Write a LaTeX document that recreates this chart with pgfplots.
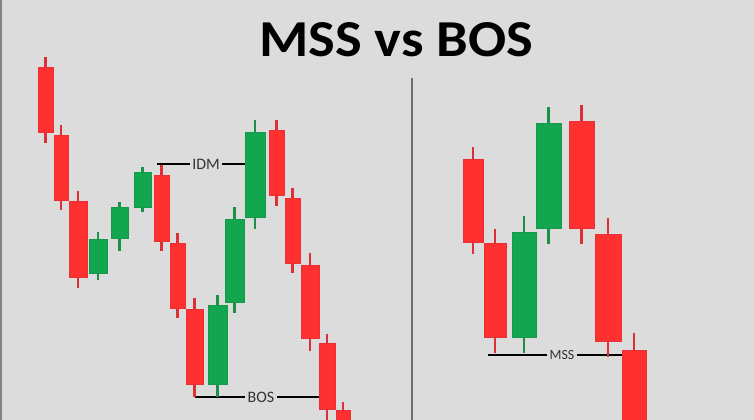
\documentclass[border=0pt]{standalone}
\usepackage{pgfplots}
\pgfplotsset{compat=1.18}
\usepackage{fontspec}
\setmainfont{Carlito}
\newfontfamily\titlefont[FakeStretch=1.09]{Carlito}
\definecolor{bg}{HTML}{DCDCDC}
\definecolor{cred}{HTML}{FF3030}
\definecolor{credd}{HTML}{DC3034}
\definecolor{cgreen}{HTML}{12A64F}
\definecolor{cgreend}{HTML}{1A9048}
\definecolor{sep}{HTML}{6E6E6E}
% \candle{fill}{wick}{xl}{xr}{wickTop}{bodyTop}{bodyBot}{wickBot}
\newcommand\candle[8]{%
  \addplot[#2, line width=2.4bp, forget plot] coordinates {(#3/2+#4/2,#5) (#3/2+#4/2,#8)};
  \addplot[fill=#1, draw=#2!60!#1, line width=0.8bp, forget plot] coordinates {(#3,#6) (#4,#6) (#4,#7) (#3,#7) (#3,#6)};
}
\newcommand\R{\candle{cred}{credd}}
\newcommand\G{\candle{cgreen}{cgreend}}
\begin{document}
\begin{tikzpicture}
\begin{axis}[
  width=754bp, height=420bp, scale only axis,
  xmin=0, xmax=754, ymin=0, ymax=420, y dir=reverse,
  hide axis, clip=true,
]
\fill[bg] (rel axis cs:0,0) rectangle (rel axis cs:1,1);
% left border and separator
\addplot[sep!80!bg, line width=1.5bp, forget plot] coordinates {(1,0) (1,420)};
\addplot[sep, line width=1.6bp, forget plot] coordinates {(412,78) (412,420)};
% level lines
\addplot[black, line width=2.5bp, forget plot] coordinates {(157,164) (245,164)};
\addplot[black, line width=2.5bp, forget plot] coordinates {(195,397) (319,397)};
\addplot[black, line width=2.5bp, forget plot] coordinates {(488,355) (622,355)};
% left panel
\R{38}{53}{57}{67}{132}{143}
\R{54}{68}{125}{135}{200}{210}
\R{69}{87}{191}{201}{277}{288}
\G{89}{107}{232}{239}{273}{280}
\G{111}{128}{202}{207}{238}{251}
\G{134}{151}{167}{172}{207}{212}
\R{154}{169}{165}{175}{241}{251}
\R{170}{185}{233}{243}{308}{318}
\R{186}{203}{298}{309}{384}{397}
\G{208}{227}{295}{305}{384}{397}
\G{225}{244}{207}{219}{302}{313}
\G{245}{265}{120}{132}{217}{229}
\R{269}{284}{120}{130}{195}{206}
\R{285}{300}{188}{198}{263}{273}
\R{301}{319}{253}{265}{338}{351}
\R{319}{335}{334}{343}{409}{420}
\R{336}{350}{402}{410}{440}{440}
% right panel
\R{463}{483}{147}{159}{242}{254}
\R{484}{506}{229}{243}{337}{353}
\G{512}{536}{216}{232}{337}{353}
\G{536}{561}{107}{123}{228}{244}
\R{569}{594}{105}{121}{228}{244}
\R{595}{621}{218}{234}{341}{357}
\R{622}{646}{333}{350}{440}{440}
% labels
\node[fill=bg, inner sep=2.5bp, text=black!80, font=\fontsize{16}{16}\selectfont] at (axis cs:206,164) {IDM};
\node[fill=bg, inner sep=2.5bp, text=black!80, font=\fontsize{16}{16}\selectfont] at (axis cs:261,397) {BOS};
\node[fill=bg, inner sep=2.5bp, text=black!80, font=\fontsize{14}{14}\selectfont] at (axis cs:562,355) {MSS};
\node[anchor=base, font=\titlefont\fontsize{52}{52}\selectfont\bfseries] at (axis cs:396,56) {MSS vs BOS};
\end{axis}
\pgfresetboundingbox
\path (current axis.south west) rectangle (current axis.north east);
\end{tikzpicture}
\end{document}
